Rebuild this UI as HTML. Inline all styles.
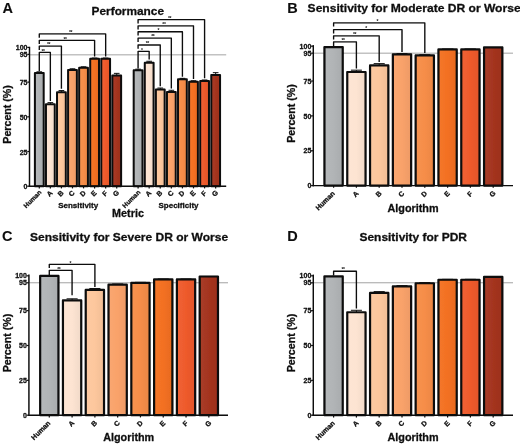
<!DOCTYPE html>
<html><head><meta charset="utf-8"><title>Performance</title>
<style>html,body{margin:0;padding:0;background:#fff;}svg{display:block;}</style></head>
<body><svg width="520" height="446" viewBox="0 0 520 446" font-family='"Liberation Sans", sans-serif' fill="#111" stroke="#111" stroke-width="0.3" stroke-linejoin="round">
<defs><filter id="soft" x="0" y="0" width="100%" height="100%" filterUnits="userSpaceOnUse"><feGaussianBlur stdDeviation="0.32"/></filter><linearGradient id="g0" x1="0" y1="0" x2="1" y2="0"><stop offset="0" stop-color="#b5b8ba"/><stop offset="0.5" stop-color="#b1b4b6"/><stop offset="1" stop-color="#a8abad"/></linearGradient><linearGradient id="g1" x1="0" y1="0" x2="1" y2="0"><stop offset="0" stop-color="#fde5d4"/><stop offset="0.5" stop-color="#fde4d2"/><stop offset="1" stop-color="#f0d9c8"/></linearGradient><linearGradient id="g2" x1="0" y1="0" x2="1" y2="0"><stop offset="0" stop-color="#fdcaa2"/><stop offset="0.5" stop-color="#fdc79d"/><stop offset="1" stop-color="#f0bd95"/></linearGradient><linearGradient id="g3" x1="0" y1="0" x2="1" y2="0"><stop offset="0" stop-color="#f9a771"/><stop offset="0.5" stop-color="#f9a26a"/><stop offset="1" stop-color="#ed9a65"/></linearGradient><linearGradient id="g4" x1="0" y1="0" x2="1" y2="0"><stop offset="0" stop-color="#f69351"/><stop offset="0.5" stop-color="#f68d48"/><stop offset="1" stop-color="#ea8644"/></linearGradient><linearGradient id="g5" x1="0" y1="0" x2="1" y2="0"><stop offset="0" stop-color="#f4772c"/><stop offset="0.5" stop-color="#f37021"/><stop offset="1" stop-color="#e76a1f"/></linearGradient><linearGradient id="g6" x1="0" y1="0" x2="1" y2="0"><stop offset="0" stop-color="#ef6236"/><stop offset="0.5" stop-color="#ee5a2b"/><stop offset="1" stop-color="#e25629"/></linearGradient><linearGradient id="g7" x1="0" y1="0" x2="1" y2="0"><stop offset="0" stop-color="#a93e2a"/><stop offset="0.5" stop-color="#a4341f"/><stop offset="1" stop-color="#9c311d"/></linearGradient></defs>
<rect x="0" y="0" width="520" height="446" fill="#fff" stroke="none"/>
<g filter="url(#soft)">
<text x="2.5" y="13.4" font-size="14.5" font-weight="bold" stroke-width="0.1">A</text>
<text x="91.6" y="14.8" font-size="11.2" font-weight="bold" textLength="72.4" lengthAdjust="spacingAndGlyphs">Performance</text>
<line x1="29.5" y1="54.84" x2="226.2" y2="54.84" stroke="#999" stroke-width="0.9"/>
<rect x="34.90" y="72.94" width="8.80" height="113.26" fill="url(#g0)" stroke="#0a0a0a" stroke-width="2.0"/>
<line x1="39.30" y1="72.94" x2="39.30" y2="71.83" stroke="#0a0a0a" stroke-width="1.0"/>
<line x1="36.48" y1="71.83" x2="42.12" y2="71.83" stroke="#0a0a0a" stroke-width="1.0"/>
<rect x="45.96" y="104.31" width="8.80" height="81.89" fill="url(#g1)" stroke="#0a0a0a" stroke-width="2.0"/>
<line x1="50.36" y1="104.31" x2="50.36" y2="102.64" stroke="#0a0a0a" stroke-width="1.0"/>
<line x1="47.54" y1="102.64" x2="53.18" y2="102.64" stroke="#0a0a0a" stroke-width="1.0"/>
<rect x="57.02" y="92.23" width="8.80" height="93.97" fill="url(#g2)" stroke="#0a0a0a" stroke-width="2.0"/>
<line x1="61.42" y1="92.23" x2="61.42" y2="90.57" stroke="#0a0a0a" stroke-width="1.0"/>
<line x1="58.60" y1="90.57" x2="64.24" y2="90.57" stroke="#0a0a0a" stroke-width="1.0"/>
<rect x="68.08" y="69.89" width="8.80" height="116.31" fill="url(#g3)" stroke="#0a0a0a" stroke-width="2.0"/>
<line x1="72.48" y1="69.89" x2="72.48" y2="68.78" stroke="#0a0a0a" stroke-width="1.0"/>
<line x1="69.66" y1="68.78" x2="75.30" y2="68.78" stroke="#0a0a0a" stroke-width="1.0"/>
<rect x="79.14" y="67.80" width="8.80" height="118.40" fill="url(#g4)" stroke="#0a0a0a" stroke-width="2.0"/>
<line x1="83.54" y1="67.80" x2="83.54" y2="66.83" stroke="#0a0a0a" stroke-width="1.0"/>
<line x1="80.72" y1="66.83" x2="86.36" y2="66.83" stroke="#0a0a0a" stroke-width="1.0"/>
<rect x="90.20" y="58.78" width="8.80" height="127.42" fill="url(#g5)" stroke="#0a0a0a" stroke-width="2.0"/>
<line x1="94.60" y1="58.78" x2="94.60" y2="58.09" stroke="#0a0a0a" stroke-width="1.0"/>
<line x1="91.78" y1="58.09" x2="97.42" y2="58.09" stroke="#0a0a0a" stroke-width="1.0"/>
<rect x="101.26" y="58.78" width="8.80" height="127.42" fill="url(#g6)" stroke="#0a0a0a" stroke-width="2.0"/>
<line x1="105.66" y1="58.78" x2="105.66" y2="58.09" stroke="#0a0a0a" stroke-width="1.0"/>
<line x1="102.84" y1="58.09" x2="108.48" y2="58.09" stroke="#0a0a0a" stroke-width="1.0"/>
<rect x="112.32" y="75.58" width="8.80" height="110.62" fill="url(#g7)" stroke="#0a0a0a" stroke-width="2.0"/>
<line x1="116.72" y1="75.58" x2="116.72" y2="73.36" stroke="#0a0a0a" stroke-width="1.0"/>
<line x1="113.90" y1="73.36" x2="119.54" y2="73.36" stroke="#0a0a0a" stroke-width="1.0"/>
<rect x="133.70" y="70.30" width="8.80" height="115.90" fill="url(#g0)" stroke="#0a0a0a" stroke-width="2.0"/>
<line x1="138.10" y1="70.30" x2="138.10" y2="69.19" stroke="#0a0a0a" stroke-width="1.0"/>
<line x1="135.28" y1="69.19" x2="140.92" y2="69.19" stroke="#0a0a0a" stroke-width="1.0"/>
<rect x="144.78" y="62.67" width="8.80" height="123.53" fill="url(#g1)" stroke="#0a0a0a" stroke-width="2.0"/>
<line x1="149.18" y1="62.67" x2="149.18" y2="61.28" stroke="#0a0a0a" stroke-width="1.0"/>
<line x1="146.36" y1="61.28" x2="152.00" y2="61.28" stroke="#0a0a0a" stroke-width="1.0"/>
<rect x="155.86" y="89.46" width="8.80" height="96.74" fill="url(#g2)" stroke="#0a0a0a" stroke-width="2.0"/>
<line x1="160.26" y1="89.46" x2="160.26" y2="88.07" stroke="#0a0a0a" stroke-width="1.0"/>
<line x1="157.44" y1="88.07" x2="163.08" y2="88.07" stroke="#0a0a0a" stroke-width="1.0"/>
<rect x="166.94" y="92.09" width="8.80" height="94.11" fill="url(#g3)" stroke="#0a0a0a" stroke-width="2.0"/>
<line x1="171.34" y1="92.09" x2="171.34" y2="90.29" stroke="#0a0a0a" stroke-width="1.0"/>
<line x1="168.52" y1="90.29" x2="174.16" y2="90.29" stroke="#0a0a0a" stroke-width="1.0"/>
<rect x="178.02" y="79.32" width="8.80" height="106.88" fill="url(#g4)" stroke="#0a0a0a" stroke-width="2.0"/>
<line x1="182.42" y1="79.32" x2="182.42" y2="78.35" stroke="#0a0a0a" stroke-width="1.0"/>
<line x1="179.60" y1="78.35" x2="185.24" y2="78.35" stroke="#0a0a0a" stroke-width="1.0"/>
<rect x="189.10" y="81.68" width="8.80" height="104.52" fill="url(#g5)" stroke="#0a0a0a" stroke-width="2.0"/>
<line x1="193.50" y1="81.68" x2="193.50" y2="80.71" stroke="#0a0a0a" stroke-width="1.0"/>
<line x1="190.68" y1="80.71" x2="196.32" y2="80.71" stroke="#0a0a0a" stroke-width="1.0"/>
<rect x="200.18" y="80.99" width="8.80" height="105.21" fill="url(#g6)" stroke="#0a0a0a" stroke-width="2.0"/>
<line x1="204.58" y1="80.99" x2="204.58" y2="80.02" stroke="#0a0a0a" stroke-width="1.0"/>
<line x1="201.76" y1="80.02" x2="207.40" y2="80.02" stroke="#0a0a0a" stroke-width="1.0"/>
<rect x="211.26" y="74.88" width="8.80" height="111.32" fill="url(#g7)" stroke="#0a0a0a" stroke-width="2.0"/>
<line x1="215.66" y1="74.88" x2="215.66" y2="72.66" stroke="#0a0a0a" stroke-width="1.0"/>
<line x1="212.84" y1="72.66" x2="218.48" y2="72.66" stroke="#0a0a0a" stroke-width="1.0"/>
<line x1="29.5" y1="46.80" x2="29.5" y2="186.90" stroke="#0a0a0a" stroke-width="1.45"/>
<line x1="28.8" y1="186.20" x2="226.2" y2="186.20" stroke="#0a0a0a" stroke-width="1.45"/>
<line x1="27.3" y1="186.20" x2="29.5" y2="186.20" stroke="#0a0a0a" stroke-width="1.2"/>
<text x="27.5" y="189.20" font-size="7.0" font-weight="bold" text-anchor="end">0</text>
<line x1="27.3" y1="151.50" x2="29.5" y2="151.50" stroke="#0a0a0a" stroke-width="1.2"/>
<text x="27.5" y="154.50" font-size="7.0" font-weight="bold" text-anchor="end">25</text>
<line x1="27.3" y1="116.80" x2="29.5" y2="116.80" stroke="#0a0a0a" stroke-width="1.2"/>
<text x="27.5" y="119.80" font-size="7.0" font-weight="bold" text-anchor="end">50</text>
<line x1="27.3" y1="82.10" x2="29.5" y2="82.10" stroke="#0a0a0a" stroke-width="1.2"/>
<text x="27.5" y="85.10" font-size="7.0" font-weight="bold" text-anchor="end">75</text>
<line x1="27.3" y1="54.34" x2="29.5" y2="54.34" stroke="#0a0a0a" stroke-width="1.2"/>
<text x="27.5" y="57.34" font-size="7.0" font-weight="bold" text-anchor="end">95</text>
<line x1="27.3" y1="47.40" x2="29.5" y2="47.40" stroke="#0a0a0a" stroke-width="1.2"/>
<text x="27.5" y="50.40" font-size="7.0" font-weight="bold" text-anchor="end">100</text>
<line x1="39.30" y1="186.20" x2="39.30" y2="188.40" stroke="#0a0a0a" stroke-width="1.2"/>
<text transform="translate(41.90,192.80) rotate(-45)" font-size="6.5" font-weight="bold" text-anchor="end">Human</text>
<line x1="50.36" y1="186.20" x2="50.36" y2="188.40" stroke="#0a0a0a" stroke-width="1.2"/>
<text transform="translate(49.46,193.40) rotate(-45)" font-size="7.0" font-weight="bold" text-anchor="middle" dy="2.52">A</text>
<line x1="61.42" y1="186.20" x2="61.42" y2="188.40" stroke="#0a0a0a" stroke-width="1.2"/>
<text transform="translate(60.52,193.40) rotate(-45)" font-size="7.0" font-weight="bold" text-anchor="middle" dy="2.52">B</text>
<line x1="72.48" y1="186.20" x2="72.48" y2="188.40" stroke="#0a0a0a" stroke-width="1.2"/>
<text transform="translate(71.58,193.40) rotate(-45)" font-size="7.0" font-weight="bold" text-anchor="middle" dy="2.52">C</text>
<line x1="83.54" y1="186.20" x2="83.54" y2="188.40" stroke="#0a0a0a" stroke-width="1.2"/>
<text transform="translate(82.64,193.40) rotate(-45)" font-size="7.0" font-weight="bold" text-anchor="middle" dy="2.52">D</text>
<line x1="94.60" y1="186.20" x2="94.60" y2="188.40" stroke="#0a0a0a" stroke-width="1.2"/>
<text transform="translate(93.70,193.40) rotate(-45)" font-size="7.0" font-weight="bold" text-anchor="middle" dy="2.52">E</text>
<line x1="105.66" y1="186.20" x2="105.66" y2="188.40" stroke="#0a0a0a" stroke-width="1.2"/>
<text transform="translate(104.76,193.40) rotate(-45)" font-size="7.0" font-weight="bold" text-anchor="middle" dy="2.52">F</text>
<line x1="116.72" y1="186.20" x2="116.72" y2="188.40" stroke="#0a0a0a" stroke-width="1.2"/>
<text transform="translate(115.82,193.40) rotate(-45)" font-size="7.0" font-weight="bold" text-anchor="middle" dy="2.52">G</text>
<line x1="138.10" y1="186.20" x2="138.10" y2="188.40" stroke="#0a0a0a" stroke-width="1.2"/>
<text transform="translate(140.70,192.80) rotate(-45)" font-size="6.5" font-weight="bold" text-anchor="end">Human</text>
<line x1="149.18" y1="186.20" x2="149.18" y2="188.40" stroke="#0a0a0a" stroke-width="1.2"/>
<text transform="translate(148.28,193.40) rotate(-45)" font-size="7.0" font-weight="bold" text-anchor="middle" dy="2.52">A</text>
<line x1="160.26" y1="186.20" x2="160.26" y2="188.40" stroke="#0a0a0a" stroke-width="1.2"/>
<text transform="translate(159.36,193.40) rotate(-45)" font-size="7.0" font-weight="bold" text-anchor="middle" dy="2.52">B</text>
<line x1="171.34" y1="186.20" x2="171.34" y2="188.40" stroke="#0a0a0a" stroke-width="1.2"/>
<text transform="translate(170.44,193.40) rotate(-45)" font-size="7.0" font-weight="bold" text-anchor="middle" dy="2.52">C</text>
<line x1="182.42" y1="186.20" x2="182.42" y2="188.40" stroke="#0a0a0a" stroke-width="1.2"/>
<text transform="translate(181.52,193.40) rotate(-45)" font-size="7.0" font-weight="bold" text-anchor="middle" dy="2.52">D</text>
<line x1="193.50" y1="186.20" x2="193.50" y2="188.40" stroke="#0a0a0a" stroke-width="1.2"/>
<text transform="translate(192.60,193.40) rotate(-45)" font-size="7.0" font-weight="bold" text-anchor="middle" dy="2.52">E</text>
<line x1="204.58" y1="186.20" x2="204.58" y2="188.40" stroke="#0a0a0a" stroke-width="1.2"/>
<text transform="translate(203.68,193.40) rotate(-45)" font-size="7.0" font-weight="bold" text-anchor="middle" dy="2.52">F</text>
<line x1="215.66" y1="186.20" x2="215.66" y2="188.40" stroke="#0a0a0a" stroke-width="1.2"/>
<text transform="translate(214.76,193.40) rotate(-45)" font-size="7.0" font-weight="bold" text-anchor="middle" dy="2.52">G</text>
<text x="78.2" y="208.1" font-size="8" font-weight="bold" text-anchor="middle">Sensitivity</text>
<text x="178.5" y="208.1" font-size="8" font-weight="bold" text-anchor="middle">Specificity</text>
<text x="128.0" y="216.6" font-size="10.8" font-weight="bold" text-anchor="middle">Metric</text>
<text transform="translate(10.9,114.40) rotate(-90)" font-size="10.65" font-weight="bold" text-anchor="middle">Percent (%)</text>
<path d="M39.30,71.03 V52.40 H50.36 V100.94" fill="none" stroke="#0a0a0a" stroke-width="1.35"/>
<text x="42.93" y="52.70" font-size="5" font-weight="bold" text-anchor="middle" stroke="none" fill="#111" letter-spacing="-0.4">**</text>
<path d="M39.30,49.90 V46.10 H61.42 V88.87" fill="none" stroke="#0a0a0a" stroke-width="1.35"/>
<text x="48.46" y="46.40" font-size="5" font-weight="bold" text-anchor="middle" stroke="none" fill="#111" letter-spacing="-0.4">**</text>
<path d="M39.30,44.10 V40.30 H94.60 V56.39" fill="none" stroke="#0a0a0a" stroke-width="1.35"/>
<text x="65.05" y="40.60" font-size="5" font-weight="bold" text-anchor="middle" stroke="none" fill="#111" letter-spacing="-0.4">**</text>
<path d="M39.30,37.70 V33.90 H105.66 V56.39" fill="none" stroke="#0a0a0a" stroke-width="1.35"/>
<text x="70.58" y="34.20" font-size="5" font-weight="bold" text-anchor="middle" stroke="none" fill="#111" letter-spacing="-0.4">**</text>
<path d="M138.10,68.39 V51.30 H149.18 V59.58" fill="none" stroke="#0a0a0a" stroke-width="1.35"/>
<text x="141.74" y="51.60" font-size="5" font-weight="bold" text-anchor="middle" stroke="none" fill="#111" letter-spacing="-0.4">*</text>
<path d="M138.10,48.80 V45.00 H160.26 V86.37" fill="none" stroke="#0a0a0a" stroke-width="1.35"/>
<text x="147.28" y="45.30" font-size="5" font-weight="bold" text-anchor="middle" stroke="none" fill="#111" letter-spacing="-0.4">**</text>
<path d="M138.10,41.90 V38.10 H171.34 V88.59" fill="none" stroke="#0a0a0a" stroke-width="1.35"/>
<text x="152.82" y="38.40" font-size="5" font-weight="bold" text-anchor="middle" stroke="none" fill="#111" letter-spacing="-0.4">**</text>
<path d="M138.10,35.50 V31.70 H182.42 V76.65" fill="none" stroke="#0a0a0a" stroke-width="1.35"/>
<text x="158.36" y="32.00" font-size="5" font-weight="bold" text-anchor="middle" stroke="none" fill="#111" letter-spacing="-0.4">*</text>
<path d="M138.10,29.60 V25.80 H193.50 V79.01" fill="none" stroke="#0a0a0a" stroke-width="1.35"/>
<text x="163.90" y="26.10" font-size="5" font-weight="bold" text-anchor="middle" stroke="none" fill="#111" letter-spacing="-0.4">**</text>
<path d="M138.10,23.40 V19.60 H204.58 V78.32" fill="none" stroke="#0a0a0a" stroke-width="1.35"/>
<text x="169.44" y="19.90" font-size="5" font-weight="bold" text-anchor="middle" stroke="none" fill="#111" letter-spacing="-0.4">**</text>
<text x="287.2" y="13.2" font-size="14.5" font-weight="bold" stroke-width="0.1">B</text>
<text x="307.6" y="12.0" font-size="11.2" font-weight="bold" textLength="213" lengthAdjust="spacingAndGlyphs">Sensitivity for Moderate DR or Worse</text>
<line x1="313.3" y1="53.17" x2="513" y2="53.17" stroke="#999" stroke-width="0.9"/>
<rect x="324.45" y="47.04" width="18.30" height="138.56" fill="url(#g0)" stroke="#0a0a0a" stroke-width="2.2"/>
<rect x="347.25" y="71.99" width="18.30" height="113.61" fill="url(#g1)" stroke="#0a0a0a" stroke-width="2.2"/>
<line x1="356.40" y1="71.99" x2="356.40" y2="70.18" stroke="#0a0a0a" stroke-width="1.0"/>
<line x1="350.91" y1="70.18" x2="361.89" y2="70.18" stroke="#0a0a0a" stroke-width="1.0"/>
<rect x="370.05" y="65.44" width="18.30" height="120.16" fill="url(#g2)" stroke="#0a0a0a" stroke-width="2.2"/>
<line x1="379.20" y1="65.44" x2="379.20" y2="63.63" stroke="#0a0a0a" stroke-width="1.0"/>
<line x1="373.71" y1="63.63" x2="384.69" y2="63.63" stroke="#0a0a0a" stroke-width="1.0"/>
<rect x="392.85" y="54.29" width="18.30" height="131.31" fill="url(#g3)" stroke="#0a0a0a" stroke-width="2.2"/>
<line x1="402.00" y1="54.29" x2="402.00" y2="53.59" stroke="#0a0a0a" stroke-width="1.0"/>
<line x1="396.51" y1="53.59" x2="407.49" y2="53.59" stroke="#0a0a0a" stroke-width="1.0"/>
<rect x="415.65" y="55.40" width="18.30" height="130.20" fill="url(#g4)" stroke="#0a0a0a" stroke-width="2.2"/>
<line x1="424.80" y1="55.40" x2="424.80" y2="54.70" stroke="#0a0a0a" stroke-width="1.0"/>
<line x1="419.31" y1="54.70" x2="430.29" y2="54.70" stroke="#0a0a0a" stroke-width="1.0"/>
<rect x="438.45" y="49.41" width="18.30" height="136.19" fill="url(#g5)" stroke="#0a0a0a" stroke-width="2.2"/>
<line x1="447.60" y1="49.41" x2="447.60" y2="48.99" stroke="#0a0a0a" stroke-width="1.0"/>
<line x1="442.11" y1="48.99" x2="453.09" y2="48.99" stroke="#0a0a0a" stroke-width="1.0"/>
<rect x="461.25" y="49.41" width="18.30" height="136.19" fill="url(#g6)" stroke="#0a0a0a" stroke-width="2.2"/>
<line x1="470.40" y1="49.41" x2="470.40" y2="48.99" stroke="#0a0a0a" stroke-width="1.0"/>
<line x1="464.91" y1="48.99" x2="475.89" y2="48.99" stroke="#0a0a0a" stroke-width="1.0"/>
<rect x="484.05" y="47.32" width="18.30" height="138.28" fill="url(#g7)" stroke="#0a0a0a" stroke-width="2.2"/>
<line x1="313.3" y1="45.10" x2="313.3" y2="186.30" stroke="#0a0a0a" stroke-width="1.45"/>
<line x1="312.6" y1="185.60" x2="513" y2="185.60" stroke="#0a0a0a" stroke-width="1.45"/>
<line x1="311.1" y1="185.60" x2="313.3" y2="185.60" stroke="#0a0a0a" stroke-width="1.2"/>
<text x="311.3" y="188.20" font-size="7.0" font-weight="bold" text-anchor="end">0</text>
<line x1="311.1" y1="150.75" x2="313.3" y2="150.75" stroke="#0a0a0a" stroke-width="1.2"/>
<text x="311.3" y="153.35" font-size="7.0" font-weight="bold" text-anchor="end">25</text>
<line x1="311.1" y1="115.90" x2="313.3" y2="115.90" stroke="#0a0a0a" stroke-width="1.2"/>
<text x="311.3" y="118.50" font-size="7.0" font-weight="bold" text-anchor="end">50</text>
<line x1="311.1" y1="81.05" x2="313.3" y2="81.05" stroke="#0a0a0a" stroke-width="1.2"/>
<text x="311.3" y="83.65" font-size="7.0" font-weight="bold" text-anchor="end">75</text>
<line x1="311.1" y1="53.17" x2="313.3" y2="53.17" stroke="#0a0a0a" stroke-width="1.2"/>
<text x="311.3" y="55.77" font-size="7.0" font-weight="bold" text-anchor="end">95</text>
<line x1="311.1" y1="46.20" x2="313.3" y2="46.20" stroke="#0a0a0a" stroke-width="1.2"/>
<text x="311.3" y="48.80" font-size="7.0" font-weight="bold" text-anchor="end">100</text>
<line x1="333.60" y1="185.60" x2="333.60" y2="187.80" stroke="#0a0a0a" stroke-width="1.2"/>
<text transform="translate(335.20,194.00) rotate(-45)" font-size="7" font-weight="bold" text-anchor="end">Human</text>
<line x1="356.40" y1="185.60" x2="356.40" y2="187.80" stroke="#0a0a0a" stroke-width="1.2"/>
<text transform="translate(355.60,193.90) rotate(-45)" font-size="7" font-weight="bold" text-anchor="middle" dy="2.52">A</text>
<line x1="379.20" y1="185.60" x2="379.20" y2="187.80" stroke="#0a0a0a" stroke-width="1.2"/>
<text transform="translate(378.40,193.90) rotate(-45)" font-size="7" font-weight="bold" text-anchor="middle" dy="2.52">B</text>
<line x1="402.00" y1="185.60" x2="402.00" y2="187.80" stroke="#0a0a0a" stroke-width="1.2"/>
<text transform="translate(401.20,193.90) rotate(-45)" font-size="7" font-weight="bold" text-anchor="middle" dy="2.52">C</text>
<line x1="424.80" y1="185.60" x2="424.80" y2="187.80" stroke="#0a0a0a" stroke-width="1.2"/>
<text transform="translate(424.00,193.90) rotate(-45)" font-size="7" font-weight="bold" text-anchor="middle" dy="2.52">D</text>
<line x1="447.60" y1="185.60" x2="447.60" y2="187.80" stroke="#0a0a0a" stroke-width="1.2"/>
<text transform="translate(446.80,193.90) rotate(-45)" font-size="7" font-weight="bold" text-anchor="middle" dy="2.52">E</text>
<line x1="470.40" y1="185.60" x2="470.40" y2="187.80" stroke="#0a0a0a" stroke-width="1.2"/>
<text transform="translate(469.60,193.90) rotate(-45)" font-size="7" font-weight="bold" text-anchor="middle" dy="2.52">F</text>
<line x1="493.20" y1="185.60" x2="493.20" y2="187.80" stroke="#0a0a0a" stroke-width="1.2"/>
<text transform="translate(492.40,193.90) rotate(-45)" font-size="7" font-weight="bold" text-anchor="middle" dy="2.52">G</text>
<text x="413" y="212" font-size="10.8" font-weight="bold" text-anchor="middle">Algorithm</text>
<text transform="translate(294.7,113.50) rotate(-90)" font-size="10.65" font-weight="bold" text-anchor="middle">Percent (%)</text>
<path d="M333.60,46.24 V41.90 H356.40 V68.48" fill="none" stroke="#0a0a0a" stroke-width="1.35"/>
<text x="343.10" y="42.20" font-size="5" font-weight="bold" text-anchor="middle" stroke="none" fill="#111" letter-spacing="-0.4">**</text>
<path d="M333.60,39.60 V35.80 H379.20 V61.93" fill="none" stroke="#0a0a0a" stroke-width="1.35"/>
<text x="354.50" y="36.10" font-size="5" font-weight="bold" text-anchor="middle" stroke="none" fill="#111" letter-spacing="-0.4">**</text>
<path d="M333.60,33.40 V29.60 H402.00 V51.89" fill="none" stroke="#0a0a0a" stroke-width="1.35"/>
<text x="365.90" y="29.90" font-size="5" font-weight="bold" text-anchor="middle" stroke="none" fill="#111" letter-spacing="-0.4">*</text>
<path d="M333.60,26.60 V22.80 H424.80 V53.00" fill="none" stroke="#0a0a0a" stroke-width="1.35"/>
<text x="377.30" y="23.10" font-size="5" font-weight="bold" text-anchor="middle" stroke="none" fill="#111" letter-spacing="-0.4">*</text>
<text x="2.0" y="240.6" font-size="14.5" font-weight="bold" stroke-width="0.1">C</text>
<text x="30.0" y="240.9" font-size="11.2" font-weight="bold" textLength="198.1" lengthAdjust="spacingAndGlyphs">Sensitivity for Severe DR or Worse</text>
<line x1="28.9" y1="282.77" x2="228" y2="282.77" stroke="#999" stroke-width="0.9"/>
<rect x="40.15" y="275.94" width="18.30" height="139.26" fill="url(#g0)" stroke="#0a0a0a" stroke-width="2.2"/>
<rect x="62.94" y="300.47" width="18.30" height="114.73" fill="url(#g1)" stroke="#0a0a0a" stroke-width="2.2"/>
<line x1="72.09" y1="300.47" x2="72.09" y2="298.80" stroke="#0a0a0a" stroke-width="1.0"/>
<line x1="66.60" y1="298.80" x2="77.58" y2="298.80" stroke="#0a0a0a" stroke-width="1.0"/>
<rect x="85.73" y="289.88" width="18.30" height="125.32" fill="url(#g2)" stroke="#0a0a0a" stroke-width="2.2"/>
<line x1="94.88" y1="289.88" x2="94.88" y2="288.49" stroke="#0a0a0a" stroke-width="1.0"/>
<line x1="89.39" y1="288.49" x2="100.37" y2="288.49" stroke="#0a0a0a" stroke-width="1.0"/>
<rect x="108.52" y="284.72" width="18.30" height="130.48" fill="url(#g3)" stroke="#0a0a0a" stroke-width="2.2"/>
<line x1="117.67" y1="284.72" x2="117.67" y2="284.02" stroke="#0a0a0a" stroke-width="1.0"/>
<line x1="112.18" y1="284.02" x2="123.16" y2="284.02" stroke="#0a0a0a" stroke-width="1.0"/>
<rect x="131.31" y="282.91" width="18.30" height="132.29" fill="url(#g4)" stroke="#0a0a0a" stroke-width="2.2"/>
<line x1="140.46" y1="282.91" x2="140.46" y2="282.35" stroke="#0a0a0a" stroke-width="1.0"/>
<line x1="134.97" y1="282.35" x2="145.95" y2="282.35" stroke="#0a0a0a" stroke-width="1.0"/>
<rect x="154.10" y="279.42" width="18.30" height="135.78" fill="url(#g5)" stroke="#0a0a0a" stroke-width="2.2"/>
<line x1="163.25" y1="279.42" x2="163.25" y2="279.01" stroke="#0a0a0a" stroke-width="1.0"/>
<line x1="157.76" y1="279.01" x2="168.74" y2="279.01" stroke="#0a0a0a" stroke-width="1.0"/>
<rect x="176.89" y="279.42" width="18.30" height="135.78" fill="url(#g6)" stroke="#0a0a0a" stroke-width="2.2"/>
<line x1="186.04" y1="279.42" x2="186.04" y2="279.01" stroke="#0a0a0a" stroke-width="1.0"/>
<line x1="180.55" y1="279.01" x2="191.53" y2="279.01" stroke="#0a0a0a" stroke-width="1.0"/>
<rect x="199.68" y="276.50" width="18.30" height="138.70" fill="url(#g7)" stroke="#0a0a0a" stroke-width="2.2"/>
<line x1="28.9" y1="274.60" x2="28.9" y2="415.90" stroke="#0a0a0a" stroke-width="1.45"/>
<line x1="28.2" y1="415.20" x2="228" y2="415.20" stroke="#0a0a0a" stroke-width="1.45"/>
<line x1="26.7" y1="415.20" x2="28.9" y2="415.20" stroke="#0a0a0a" stroke-width="1.2"/>
<text x="26.9" y="417.70" font-size="7.0" font-weight="bold" text-anchor="end">0</text>
<line x1="26.7" y1="380.35" x2="28.9" y2="380.35" stroke="#0a0a0a" stroke-width="1.2"/>
<text x="26.9" y="382.85" font-size="7.0" font-weight="bold" text-anchor="end">25</text>
<line x1="26.7" y1="345.50" x2="28.9" y2="345.50" stroke="#0a0a0a" stroke-width="1.2"/>
<text x="26.9" y="348.00" font-size="7.0" font-weight="bold" text-anchor="end">50</text>
<line x1="26.7" y1="310.65" x2="28.9" y2="310.65" stroke="#0a0a0a" stroke-width="1.2"/>
<text x="26.9" y="313.15" font-size="7.0" font-weight="bold" text-anchor="end">75</text>
<line x1="26.7" y1="282.77" x2="28.9" y2="282.77" stroke="#0a0a0a" stroke-width="1.2"/>
<text x="26.9" y="285.27" font-size="7.0" font-weight="bold" text-anchor="end">95</text>
<line x1="26.7" y1="275.80" x2="28.9" y2="275.80" stroke="#0a0a0a" stroke-width="1.2"/>
<text x="26.9" y="278.30" font-size="7.0" font-weight="bold" text-anchor="end">100</text>
<line x1="49.30" y1="415.20" x2="49.30" y2="417.40" stroke="#0a0a0a" stroke-width="1.2"/>
<text transform="translate(50.90,423.60) rotate(-45)" font-size="7" font-weight="bold" text-anchor="end">Human</text>
<line x1="72.09" y1="415.20" x2="72.09" y2="417.40" stroke="#0a0a0a" stroke-width="1.2"/>
<text transform="translate(71.29,423.50) rotate(-45)" font-size="7" font-weight="bold" text-anchor="middle" dy="2.52">A</text>
<line x1="94.88" y1="415.20" x2="94.88" y2="417.40" stroke="#0a0a0a" stroke-width="1.2"/>
<text transform="translate(94.08,423.50) rotate(-45)" font-size="7" font-weight="bold" text-anchor="middle" dy="2.52">B</text>
<line x1="117.67" y1="415.20" x2="117.67" y2="417.40" stroke="#0a0a0a" stroke-width="1.2"/>
<text transform="translate(116.87,423.50) rotate(-45)" font-size="7" font-weight="bold" text-anchor="middle" dy="2.52">C</text>
<line x1="140.46" y1="415.20" x2="140.46" y2="417.40" stroke="#0a0a0a" stroke-width="1.2"/>
<text transform="translate(139.66,423.50) rotate(-45)" font-size="7" font-weight="bold" text-anchor="middle" dy="2.52">D</text>
<line x1="163.25" y1="415.20" x2="163.25" y2="417.40" stroke="#0a0a0a" stroke-width="1.2"/>
<text transform="translate(162.45,423.50) rotate(-45)" font-size="7" font-weight="bold" text-anchor="middle" dy="2.52">E</text>
<line x1="186.04" y1="415.20" x2="186.04" y2="417.40" stroke="#0a0a0a" stroke-width="1.2"/>
<text transform="translate(185.24,423.50) rotate(-45)" font-size="7" font-weight="bold" text-anchor="middle" dy="2.52">F</text>
<line x1="208.83" y1="415.20" x2="208.83" y2="417.40" stroke="#0a0a0a" stroke-width="1.2"/>
<text transform="translate(208.03,423.50) rotate(-45)" font-size="7" font-weight="bold" text-anchor="middle" dy="2.52">G</text>
<text x="128.7" y="441.3" font-size="10.8" font-weight="bold" text-anchor="middle">Algorithm</text>
<text transform="translate(10.9,343.10) rotate(-90)" font-size="10.65" font-weight="bold" text-anchor="middle">Percent (%)</text>
<path d="M49.30,275.14 V270.30 H72.09 V295.20" fill="none" stroke="#0a0a0a" stroke-width="1.35"/>
<text x="58.80" y="270.60" font-size="5" font-weight="bold" text-anchor="middle" stroke="none" fill="#111" letter-spacing="-0.4">**</text>
<path d="M49.30,268.10 V264.30 H94.88 V286.89" fill="none" stroke="#0a0a0a" stroke-width="1.35"/>
<text x="70.19" y="264.60" font-size="5" font-weight="bold" text-anchor="middle" stroke="none" fill="#111" letter-spacing="-0.4">*</text>
<text x="287.3" y="240.5" font-size="14.5" font-weight="bold" stroke-width="0.1">D</text>
<text x="359.5" y="241.2" font-size="11.2" font-weight="bold" textLength="107.5" lengthAdjust="spacingAndGlyphs">Sensitivity for PDR</text>
<line x1="313.3" y1="282.77" x2="513" y2="282.77" stroke="#999" stroke-width="0.9"/>
<rect x="324.45" y="276.29" width="18.30" height="138.91" fill="url(#g0)" stroke="#0a0a0a" stroke-width="2.2"/>
<rect x="347.25" y="312.25" width="18.30" height="102.95" fill="url(#g1)" stroke="#0a0a0a" stroke-width="2.2"/>
<line x1="356.40" y1="312.25" x2="356.40" y2="310.30" stroke="#0a0a0a" stroke-width="1.0"/>
<line x1="350.91" y1="310.30" x2="361.89" y2="310.30" stroke="#0a0a0a" stroke-width="1.0"/>
<rect x="370.05" y="292.88" width="18.30" height="122.32" fill="url(#g2)" stroke="#0a0a0a" stroke-width="2.2"/>
<line x1="379.20" y1="292.88" x2="379.20" y2="291.62" stroke="#0a0a0a" stroke-width="1.0"/>
<line x1="373.71" y1="291.62" x2="384.69" y2="291.62" stroke="#0a0a0a" stroke-width="1.0"/>
<rect x="392.85" y="286.32" width="18.30" height="128.88" fill="url(#g3)" stroke="#0a0a0a" stroke-width="2.2"/>
<line x1="402.00" y1="286.32" x2="402.00" y2="285.63" stroke="#0a0a0a" stroke-width="1.0"/>
<line x1="396.51" y1="285.63" x2="407.49" y2="285.63" stroke="#0a0a0a" stroke-width="1.0"/>
<rect x="415.65" y="283.26" width="18.30" height="131.94" fill="url(#g4)" stroke="#0a0a0a" stroke-width="2.2"/>
<line x1="424.80" y1="283.26" x2="424.80" y2="282.70" stroke="#0a0a0a" stroke-width="1.0"/>
<line x1="419.31" y1="282.70" x2="430.29" y2="282.70" stroke="#0a0a0a" stroke-width="1.0"/>
<rect x="438.45" y="279.77" width="18.30" height="135.43" fill="url(#g5)" stroke="#0a0a0a" stroke-width="2.2"/>
<line x1="447.60" y1="279.77" x2="447.60" y2="279.35" stroke="#0a0a0a" stroke-width="1.0"/>
<line x1="442.11" y1="279.35" x2="453.09" y2="279.35" stroke="#0a0a0a" stroke-width="1.0"/>
<rect x="461.25" y="279.77" width="18.30" height="135.43" fill="url(#g6)" stroke="#0a0a0a" stroke-width="2.2"/>
<line x1="470.40" y1="279.77" x2="470.40" y2="279.35" stroke="#0a0a0a" stroke-width="1.0"/>
<line x1="464.91" y1="279.35" x2="475.89" y2="279.35" stroke="#0a0a0a" stroke-width="1.0"/>
<rect x="484.05" y="276.85" width="18.30" height="138.35" fill="url(#g7)" stroke="#0a0a0a" stroke-width="2.2"/>
<line x1="313.3" y1="274.60" x2="313.3" y2="415.90" stroke="#0a0a0a" stroke-width="1.45"/>
<line x1="312.6" y1="415.20" x2="513" y2="415.20" stroke="#0a0a0a" stroke-width="1.45"/>
<line x1="311.1" y1="415.20" x2="313.3" y2="415.20" stroke="#0a0a0a" stroke-width="1.2"/>
<text x="311.3" y="417.70" font-size="7.0" font-weight="bold" text-anchor="end">0</text>
<line x1="311.1" y1="380.35" x2="313.3" y2="380.35" stroke="#0a0a0a" stroke-width="1.2"/>
<text x="311.3" y="382.85" font-size="7.0" font-weight="bold" text-anchor="end">25</text>
<line x1="311.1" y1="345.50" x2="313.3" y2="345.50" stroke="#0a0a0a" stroke-width="1.2"/>
<text x="311.3" y="348.00" font-size="7.0" font-weight="bold" text-anchor="end">50</text>
<line x1="311.1" y1="310.65" x2="313.3" y2="310.65" stroke="#0a0a0a" stroke-width="1.2"/>
<text x="311.3" y="313.15" font-size="7.0" font-weight="bold" text-anchor="end">75</text>
<line x1="311.1" y1="282.77" x2="313.3" y2="282.77" stroke="#0a0a0a" stroke-width="1.2"/>
<text x="311.3" y="285.27" font-size="7.0" font-weight="bold" text-anchor="end">95</text>
<line x1="311.1" y1="275.80" x2="313.3" y2="275.80" stroke="#0a0a0a" stroke-width="1.2"/>
<text x="311.3" y="278.30" font-size="7.0" font-weight="bold" text-anchor="end">100</text>
<line x1="333.60" y1="415.20" x2="333.60" y2="417.40" stroke="#0a0a0a" stroke-width="1.2"/>
<text transform="translate(335.20,423.60) rotate(-45)" font-size="7" font-weight="bold" text-anchor="end">Human</text>
<line x1="356.40" y1="415.20" x2="356.40" y2="417.40" stroke="#0a0a0a" stroke-width="1.2"/>
<text transform="translate(355.60,423.50) rotate(-45)" font-size="7" font-weight="bold" text-anchor="middle" dy="2.52">A</text>
<line x1="379.20" y1="415.20" x2="379.20" y2="417.40" stroke="#0a0a0a" stroke-width="1.2"/>
<text transform="translate(378.40,423.50) rotate(-45)" font-size="7" font-weight="bold" text-anchor="middle" dy="2.52">B</text>
<line x1="402.00" y1="415.20" x2="402.00" y2="417.40" stroke="#0a0a0a" stroke-width="1.2"/>
<text transform="translate(401.20,423.50) rotate(-45)" font-size="7" font-weight="bold" text-anchor="middle" dy="2.52">C</text>
<line x1="424.80" y1="415.20" x2="424.80" y2="417.40" stroke="#0a0a0a" stroke-width="1.2"/>
<text transform="translate(424.00,423.50) rotate(-45)" font-size="7" font-weight="bold" text-anchor="middle" dy="2.52">D</text>
<line x1="447.60" y1="415.20" x2="447.60" y2="417.40" stroke="#0a0a0a" stroke-width="1.2"/>
<text transform="translate(446.80,423.50) rotate(-45)" font-size="7" font-weight="bold" text-anchor="middle" dy="2.52">E</text>
<line x1="470.40" y1="415.20" x2="470.40" y2="417.40" stroke="#0a0a0a" stroke-width="1.2"/>
<text transform="translate(469.60,423.50) rotate(-45)" font-size="7" font-weight="bold" text-anchor="middle" dy="2.52">F</text>
<line x1="493.20" y1="415.20" x2="493.20" y2="417.40" stroke="#0a0a0a" stroke-width="1.2"/>
<text transform="translate(492.40,423.50) rotate(-45)" font-size="7" font-weight="bold" text-anchor="middle" dy="2.52">G</text>
<text x="413" y="441.3" font-size="10.8" font-weight="bold" text-anchor="middle">Algorithm</text>
<text transform="translate(295.0,343.10) rotate(-90)" font-size="10.65" font-weight="bold" text-anchor="middle">Percent (%)</text>
<path d="M333.60,275.49 V271.20 H356.40 V308.60" fill="none" stroke="#0a0a0a" stroke-width="1.35"/>
<text x="343.10" y="270.70" font-size="5" font-weight="bold" text-anchor="middle" stroke="none" fill="#111" letter-spacing="-0.4">**</text>
</g>
</svg></body></html>
